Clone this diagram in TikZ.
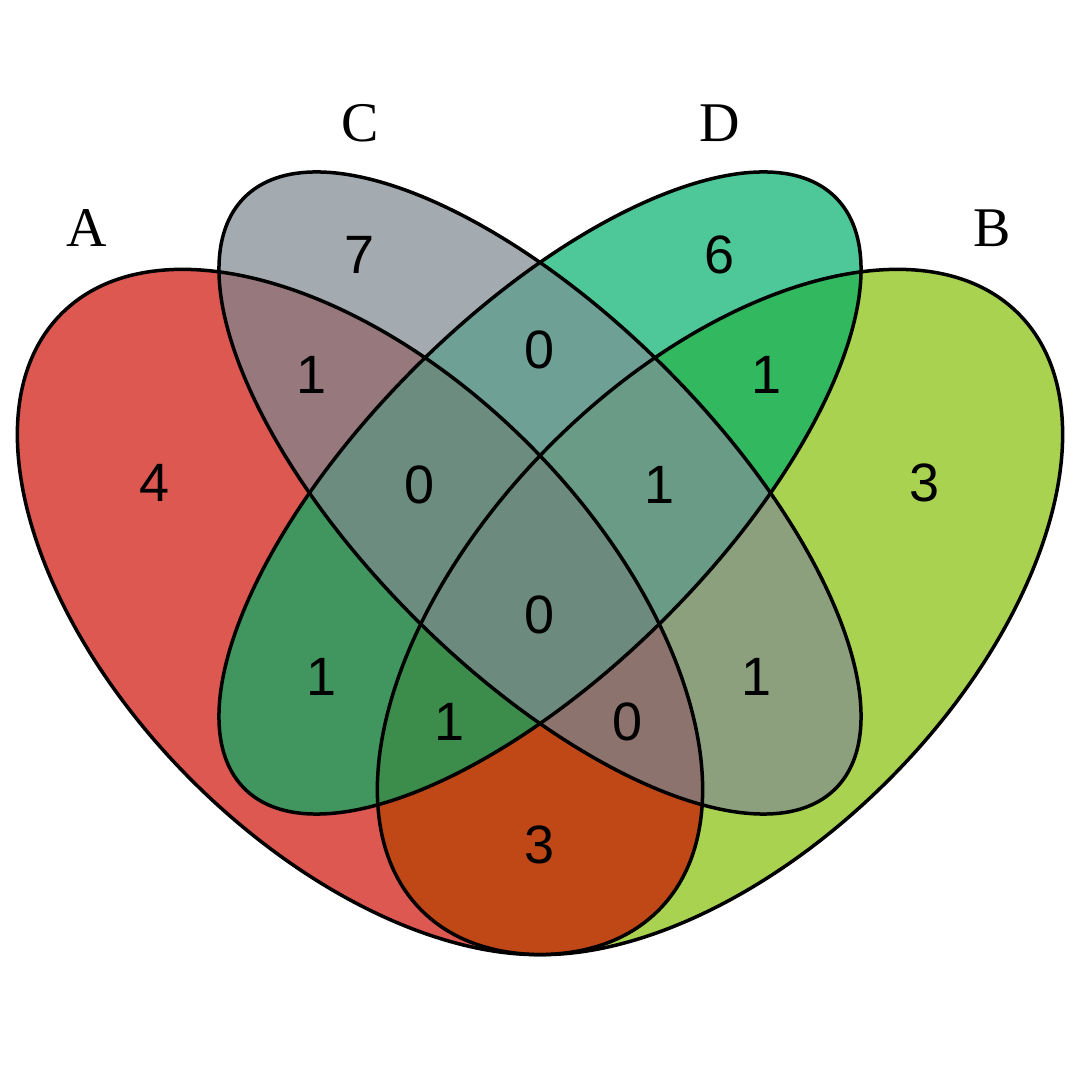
\documentclass[tikz,border=0pt]{standalone}
\usepackage{fontspec}
\setmainfont{Liberation Serif}
\newfontfamily\numfont{Liberation Sans}
\begin{document}
\begin{tikzpicture}[x=1pt,y=1pt,
  num/.style={font=\numfont\fontsize{54}{54}\selectfont},
  setlab/.style={font=\fontsize{56}{56}\selectfont},
  edge/.style={line width=3.5pt}]
\useasboundingbox (0,0) rectangle (1080,1080);
\fill[white] (0,0) rectangle (1080,1080);
\def\EA{(360,468) ellipse [x radius=422,y radius=238,rotate=-45]}
\def\EB{(720,468) ellipse [x radius=422,y radius=238,rotate=45]}
\def\EC{(540,587) ellipse [x radius=418,y radius=177,rotate=-45]}
\def\ED{(540,587) ellipse [x radius=418,y radius=177,rotate=45]}
\definecolor{cA}{RGB}{220,88,80}
\definecolor{cB}{RGB}{168,210,80}
\definecolor{cC}{RGB}{163,170,176}
\definecolor{cD}{RGB}{78,200,152}
\definecolor{cAC}{RGB}{150,120,125}
\definecolor{cBD}{RGB}{50,185,95}
\definecolor{cCD}{RGB}{110,160,150}
\definecolor{cAD}{RGB}{65,150,95}
\definecolor{cBC}{RGB}{140,160,125}
\definecolor{cAB}{RGB}{192,72,22}
\definecolor{cACD}{RGB}{108,140,128}
\definecolor{cBCD}{RGB}{105,155,135}
\definecolor{cABD}{RGB}{60,140,75}
\definecolor{cABC}{RGB}{140,115,110}
\definecolor{cABCD}{RGB}{108,138,125}
% singles
\fill[cA] \EA; \fill[cB] \EB; \fill[cC] \EC; \fill[cD] \ED;
% pairs
\begin{scope}\clip \EA; \fill[cAB] \EB; \end{scope}
\begin{scope}\clip \EA; \fill[cAC] \EC; \end{scope}
\begin{scope}\clip \EA; \fill[cAD] \ED; \end{scope}
\begin{scope}\clip \EB; \fill[cBC] \EC; \end{scope}
\begin{scope}\clip \EB; \fill[cBD] \ED; \end{scope}
\begin{scope}\clip \EC; \fill[cCD] \ED; \end{scope}
% triples
\begin{scope}\clip \EA; \clip \EB; \fill[cABC] \EC; \end{scope}
\begin{scope}\clip \EA; \clip \EB; \fill[cABD] \ED; \end{scope}
\begin{scope}\clip \EA; \clip \EC; \fill[cACD] \ED; \end{scope}
\begin{scope}\clip \EB; \clip \EC; \fill[cBCD] \ED; \end{scope}
% all
\begin{scope}\clip \EA; \clip \EB; \clip \EC; \fill[cABCD] \ED; \end{scope}
\draw[edge] \EA; \draw[edge] \EB;
\draw[edge] \EC; \draw[edge] \ED;
% set labels
\node[setlab] (lA) at (87,852) {A};
\node[setlab] (lB) at (992,852) {B};
\node[setlab] (lC) at (360,957) {C};
\node[setlab] (lD) at (720,957) {D};
% counts
\node[num] (n1) at (360,825) {7};
\node[num] (n2) at (720,825) {6};
\node[num] (n3) at (155,597) {4};
\node[num] (n4) at (925,597) {3};
\node[num] (n5) at (312,705) {1};
\node[num] (n6) at (540,730) {0};
\node[num] (n7) at (767,705) {1};
\node[num] (n8) at (420,595) {0};
\node[num] (n9) at (660,595) {1};
\node[num] (n10) at (540,465) {0};
\node[num] (n11) at (322,403) {1};
\node[num] (n12) at (450,358) {1};
\node[num] (n13) at (628,358) {0};
\node[num] (n14) at (757,403) {1};
\node[num] (n15) at (540,235) {3};
\end{tikzpicture}
\end{document}
